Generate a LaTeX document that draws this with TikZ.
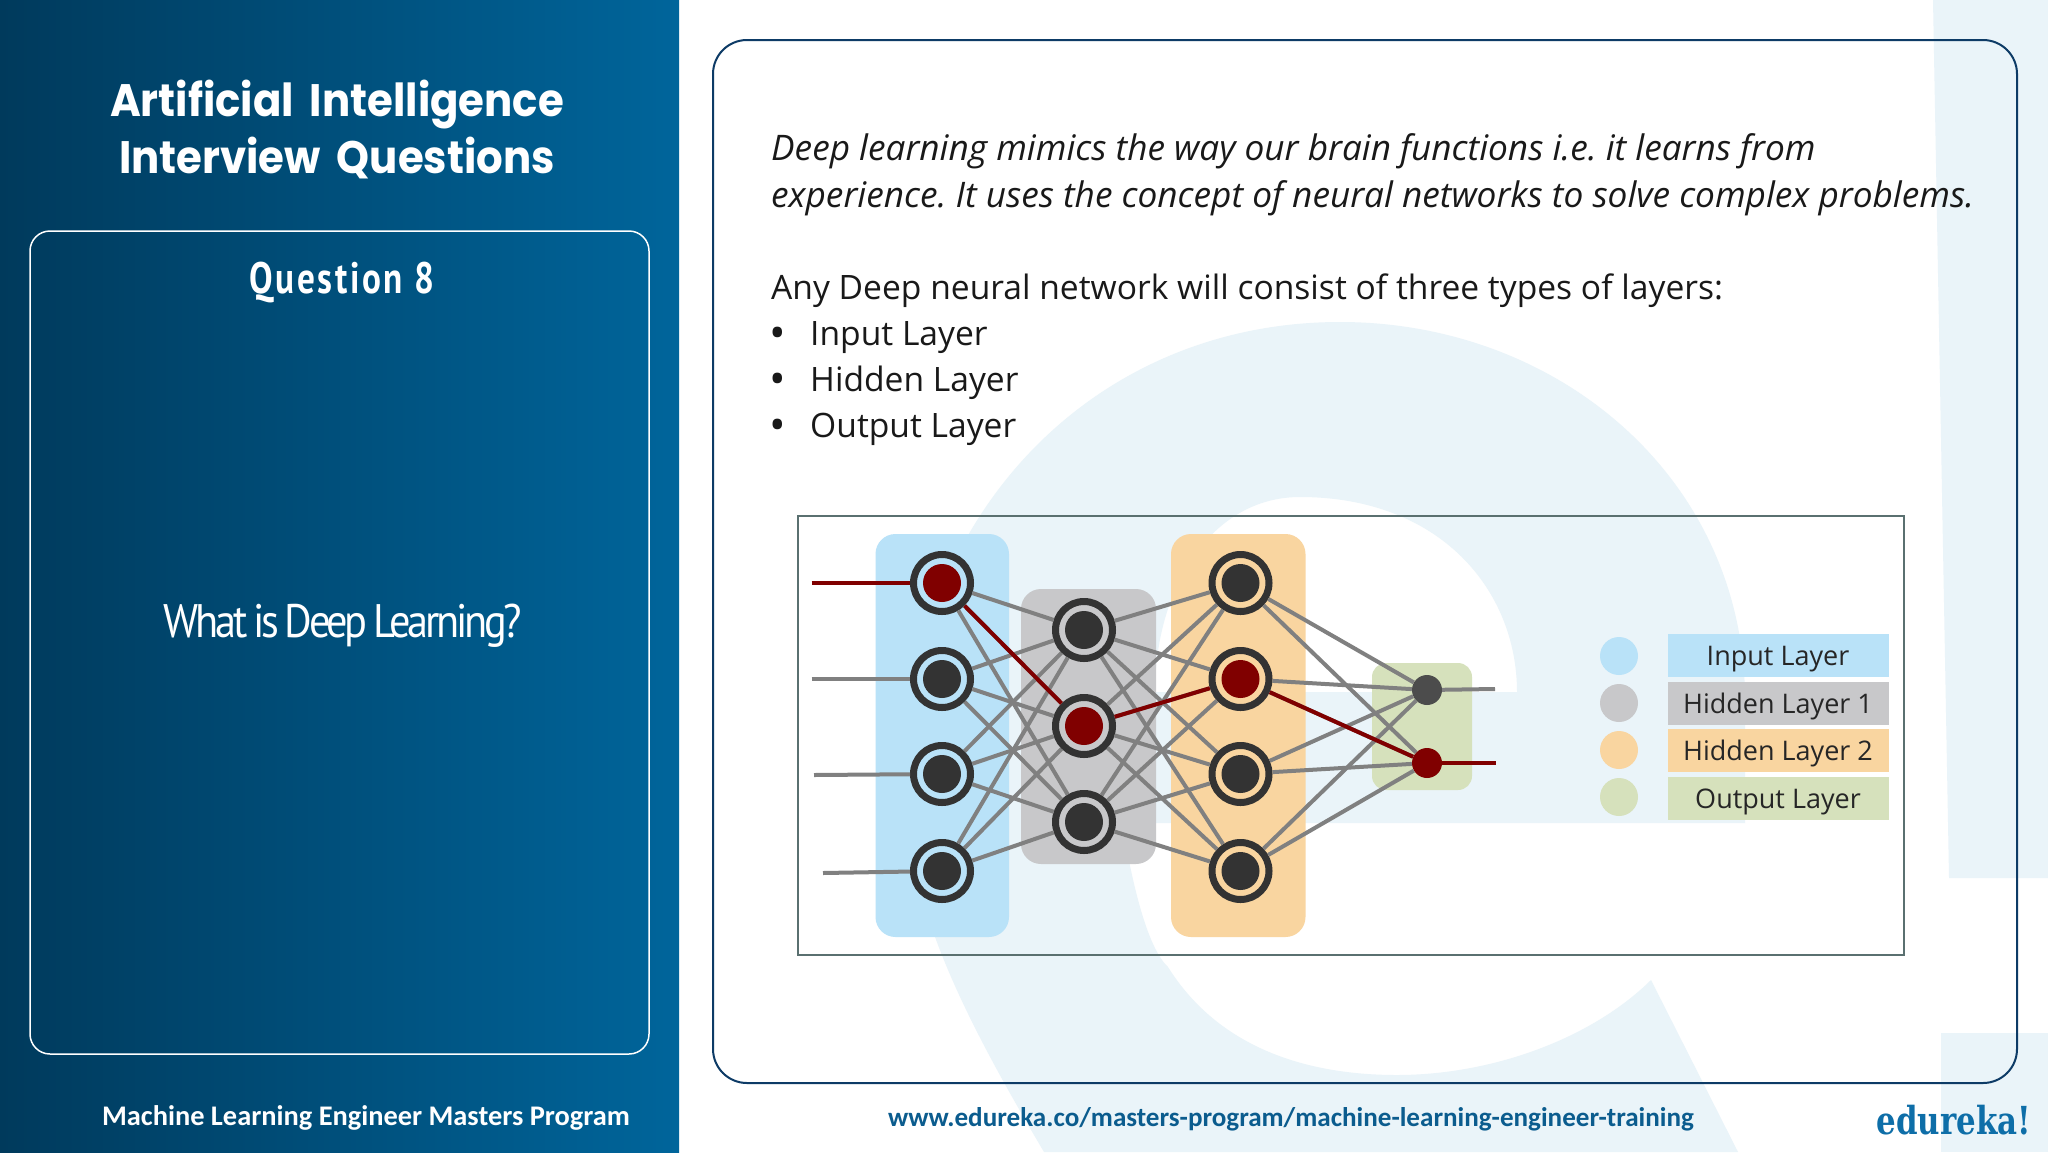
\documentclass[tikz,border=0pt]{standalone}
\usepackage{fontspec}
\setmainfont{Open Sans}
\newfontfamily\titlefont{Poppins}[FakeStretch=0.92,WordSpace=1.8]
\newfontfamily\qfont{PT Sans}[FakeStretch=0.8,LetterSpace=6]
\newfontfamily\wfont{PT Sans}[FakeStretch=0.9,LetterSpace=-7,WordSpace=0.7]
\newfontfamily\footfont{Carlito}
\newfontfamily\logofont{DejaVu Serif}[FakeStretch=0.8]
\definecolor{panelleft}{HTML}{003A5C}
\definecolor{panelright}{HTML}{00659B}
\definecolor{wmark}{HTML}{EAF4F9}
\definecolor{navy}{HTML}{0D3B66}
\definecolor{linkblue}{HTML}{0B5C8E}
\definecolor{logoblue}{HTML}{0E6EA8}
\definecolor{framec}{HTML}{5A7070}
\definecolor{bandi}{HTML}{B9E2F8}
\definecolor{bandh}{HTML}{C8C8CA}
\definecolor{bandt}{HTML}{F9D5A0}
\definecolor{bando}{HTML}{D6E1BC}
\definecolor{ringc}{HTML}{333333}
\definecolor{redc}{HTML}{800000}
\definecolor{edgec}{HTML}{808080}
\tikzset{
  ring/.style={circle, draw=ringc, line width=7pt, minimum size=57pt, inner sep=0pt},
  core/.style={circle, fill=ringc, minimum size=38pt, inner sep=0pt},
  hot/.style={fill=redc},
  outn/.style={circle, minimum size=30pt, inner sep=0pt},
  edge/.style={draw=edgec, line width=4pt},
  redge/.style={draw=redc, line width=4pt},
  dot/.style={circle, minimum size=38pt, inner sep=0pt},
  legend/.style={minimum width=221pt, minimum height=43pt, inner sep=0pt, text height=20pt, text depth=0pt,
    font=\fontsize{27}{30}\selectfont, text=black!85},
  body/.style={anchor=base west, inner sep=0pt, font=\fontsize{33.6}{36}\selectfont, text=black!90},
  ibody/.style={body, font=\itshape\fontsize{35.2}{36}\selectfont},
  bul/.style={body, font=\fontsize{44}{44}\selectfont},
  titleline/.style={anchor=base, inner sep=0pt, text=white, font=\titlefont\bfseries\fontsize{45.5}{50}\selectfont},
  footline/.style={anchor=base, inner sep=0pt},
}
\begin{document}
\frenchspacing
\begin{tikzpicture}[x=1pt,y=-1pt]
  \useasboundingbox (0,0) rectangle (2048,1152);
  % background and watermark
  \fill[white] (0,0) rectangle (2048,1152);
  \fill[wmark, even odd rule] (1044,1152) .. controls (960,1010) and (905,900) .. (905,780)
    .. controls (905,520) and (1090,322) .. (1340,322)
    .. controls (1560,322) and (1745,480) .. (1745,700)
    -- (1745,823) -- (1122,823)
    .. controls (1135,900) and (1150,950) .. (1168,967)
    .. controls (1220,1050) and (1310,1075) .. (1397,1075)
    .. controls (1490,1075) and (1590,1040) .. (1651,980)
    -- (1738,1152) -- cycle
    (1155,692) .. controls (1155,590) and (1210,497) .. (1300,497)
    .. controls (1440,497) and (1517,590) .. (1517,692) -- cycle;
  \fill[wmark] (1933,0) -- (2048,0) -- (2048,878) -- (1949,878) -- cycle;
  \fill[wmark] (1941,1033) rectangle (2048,1152);
  % left panel
  \shade[left color=panelleft, right color=panelright] (0,0) rectangle (679,1152);
  \draw[white, line width=1.5pt, rounded corners=20pt] (30,231) rectangle (649,1054);
  \draw[navy, line width=2pt, rounded corners=34pt] (713,40) rectangle (2017,1083);
  % left panel text
  \node[titleline] (t1) at (337,116) {Artificial Intelligence};
  \node[titleline] (t2) at (337,173) {Interview Questions};
  \node[anchor=base, inner sep=0pt, text=white, font=\qfont\bfseries\fontsize{44}{50}\selectfont] (q) at (342,293) {Question 8};
  \node[anchor=base, inner sep=0pt, text=white, font=\wfont\fontsize{47}{50}\selectfont] (w) at (343,637) {What is Deep Learning?};
  \node[footline, text=white, font=\footfont\bfseries\fontsize{28.4}{30}\selectfont] (f1) at (366,1125) {Machine Learning Engineer Masters Program};
  \node[footline, text=linkblue, font=\footfont\bfseries\fontsize{27.1}{30}\selectfont] (f2) at (1291,1126) {www.edureka.co/masters-program/machine-learning-engineer-training};
  \node[anchor=base, inner sep=0pt, text=logoblue, font=\logofont\bfseries\fontsize{38.6}{40}\selectfont] (logo) at (1954,1134) {edureka!};
  % body text
  \node[ibody] (l1) at (771,160) {Deep learning mimics the way our brain functions i.e. it learns from};
  \node[ibody] (l2) at (771,207) {experience. It uses the concept of neural networks to solve complex problems.};
  \node[body] (l3) at (771,299) {Any Deep neural network will consist of three types of layers:};
  \node[bul] (b1) at (769,348) {•};
  \node[body] (l4) at (810,345) {Input Layer};
  \node[bul] (b2) at (769,394) {•};
  \node[body] (l5) at (810,391) {Hidden Layer};
  \node[bul] (b3) at (769,440) {•};
  \node[body] (l6) at (810,437) {Output Layer};
  % network picture
  \draw[framec, line width=2pt] (798,516) rectangle (1904,955);
  \fill[bandi, rounded corners=20pt] (875.5,534) rectangle (1009,937);
  \fill[bandh, rounded corners=20pt] (1021,589) rectangle (1156,864);
  \fill[bandt, rounded corners=20pt] (1171,534) rectangle (1305.5,937);
  \fill[bando, rounded corners=14pt] (1372,663) rectangle (1472,790);
  % neurons
  \foreach \n/\y in {i1/583,i2/679,i3/774,i4/871}
    \node[ring, fill=bandi] (\n) at (942,\y) {};
  \foreach \n/\y in {a1/630,a2/726,a3/822}
    \node[ring, fill=bandh] (\n) at (1084,\y) {};
  \foreach \n/\y in {t1n/583,t2n/679,t3n/774,t4n/871}
    \node[ring, fill=bandt] (\n) at (1240.5,\y) {};
  \foreach \n in {i2,i3,i4,a1,a3,t1n,t3n,t4n}
    \node[core] (\n c) at (\n) {};
  \foreach \n in {i1,a2,t2n}
    \node[core, hot] (\n c) at (\n) {};
  \node[outn, fill=black!70] (o1) at (1427,690) {};
  \node[outn, fill=redc] (o2) at (1427,763) {};
  % connectors
  \coordinate (in1) at (811.5,583);
  \coordinate (in2) at (811.5,679);
  \coordinate (in3) at (814,775);
  \coordinate (in4) at (823,873);
  \coordinate (out1) at (1495,689);
  \coordinate (out2) at (1496,763);
  \foreach \a in {i1,i2,i3,i4} \foreach \b in {a1,a2,a3} \draw[edge] (\a) -- (\b);
  \foreach \a in {a1,a2,a3} \foreach \b in {t1n,t2n,t3n,t4n} \draw[edge] (\a) -- (\b);
  \foreach \a in {t1n,t2n,t3n,t4n} \foreach \b in {o1,o2} \draw[edge] (\a) -- (\b);
  \draw[edge] (in2) -- (i2);
  \draw[edge] (in3) -- (i3);
  \draw[edge] (in4) -- (i4);
  \draw[edge] (o1) -- (out1);
  \draw[redge] (in1) -- (i1);
  \draw[redge] (i1) -- (a2);
  \draw[redge] (a2) -- (t2n);
  \draw[redge] (t2n) -- (o2);
  \draw[redge] (o2) -- (out2);
  % legend
  \node[dot, fill=bandi] (d1) at (1619,656) {};
  \node[dot, fill=bandh] (d2) at (1619,703) {};
  \node[dot, fill=bandt] (d3) at (1619,750) {};
  \node[dot, fill=bando] (d4) at (1619,797) {};
  \node[legend, fill=bandi] (k1) at (1778,655.5) {Input Layer};
  \node[legend, fill=bandh] (k2) at (1778,703) {Hidden Layer 1};
  \node[legend, fill=bandt] (k3) at (1778,750.5) {Hidden Layer 2};
  \node[legend, fill=bando] (k4) at (1778,798) {Output Layer};
\end{tikzpicture}
\end{document}
